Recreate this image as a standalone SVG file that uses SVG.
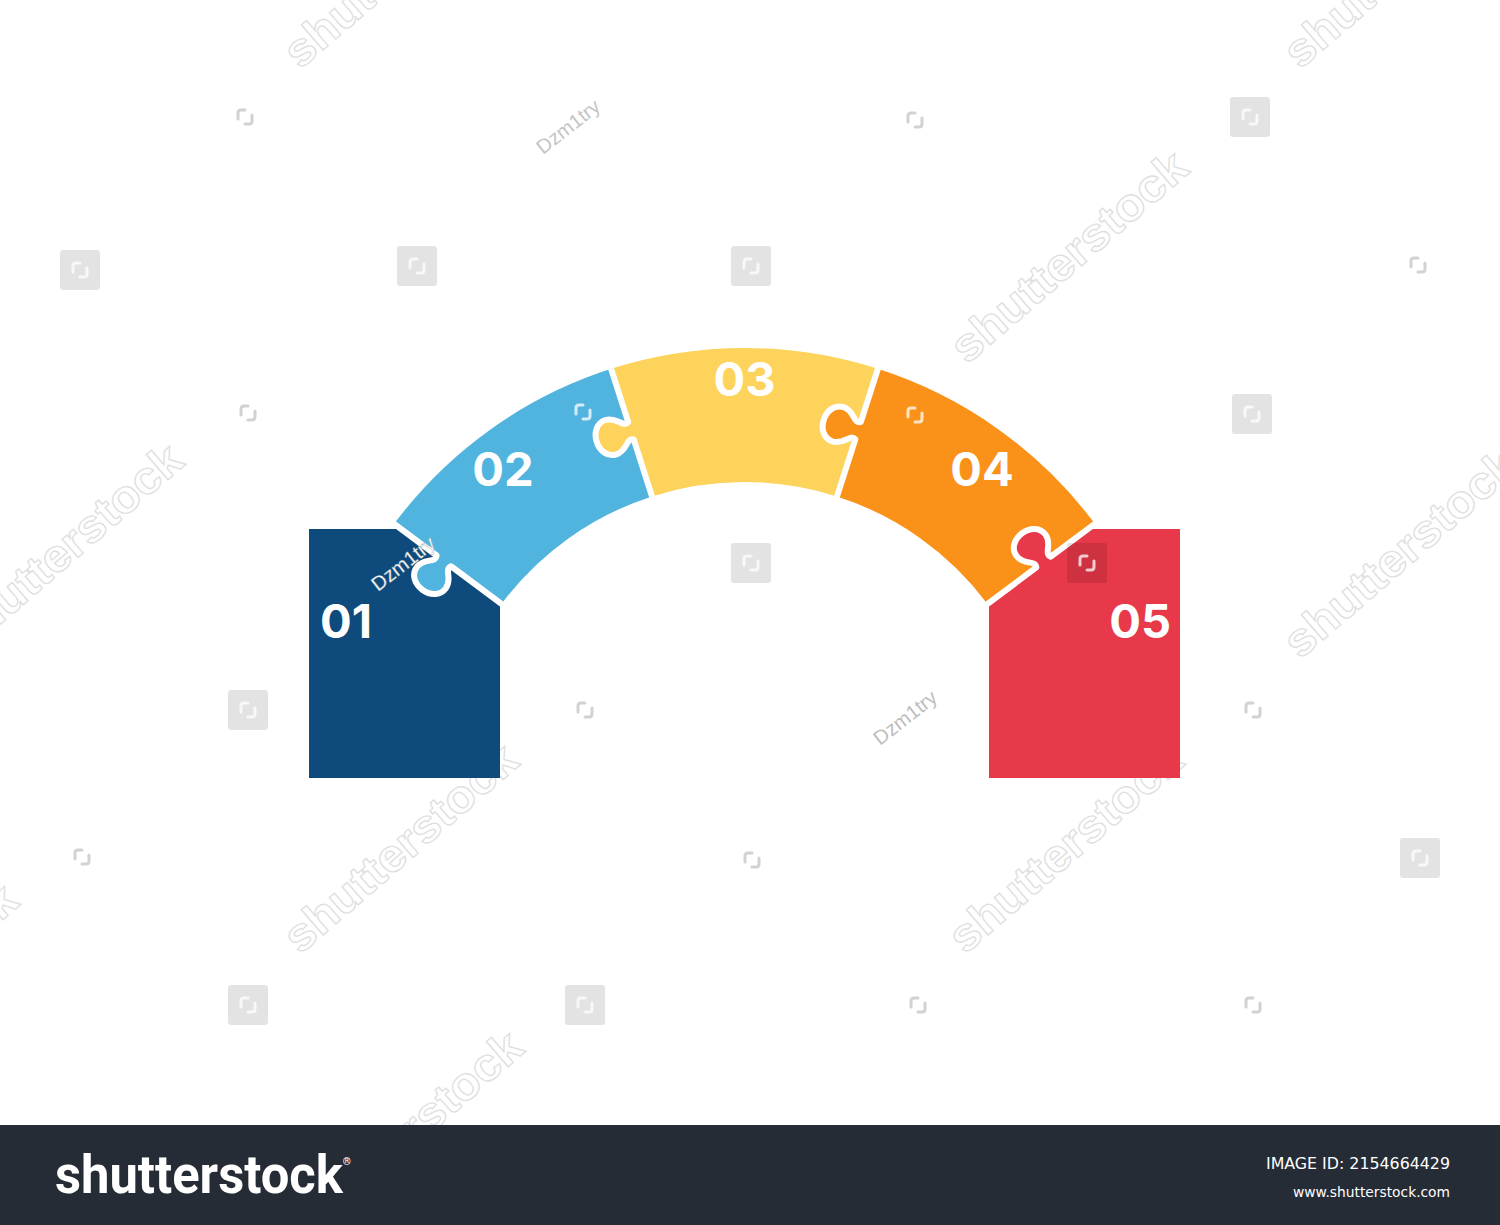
<svg xmlns="http://www.w3.org/2000/svg" width="1500" height="1225" viewBox="0 0 1500 1225">
<defs>
<style>
.num{font-family:Inter,"DejaVu Sans","Liberation Sans",sans-serif;font-weight:700;font-size:47px;fill:#fff}
.wm{font-family:"Liberation Sans",Arial,sans-serif;font-weight:bold;font-size:46px;fill:none;stroke:#e0e0e0;stroke-width:1.3}
.dz{font-family:"Liberation Sans",Arial,sans-serif;font-size:20px}
.seam{fill:none;stroke:#fff;stroke-width:6;stroke-linejoin:round;stroke-linecap:round}
.box{fill:#000;fill-opacity:0.11}
.ico{fill:none;stroke:#fff;stroke-opacity:0.75;stroke-width:3;stroke-linecap:round}
.ico2{fill:none;stroke:#d2d2d2;stroke-width:3;stroke-linecap:round}
</style>
<path id="tab" d="M-9,-6 L-9,0 C-5,7 -18,9 -18,21 C-18,30 -10,36 0,36 C10,36 18,30 18,21 C18,9 5,7 9,0 L9,-6 Z"/>
<path id="seamPath" d="M-110,0 L-9,0 C-5,7 -18,9 -18,21 C-18,30 -10,36 0,36 C10,36 18,30 18,21 C18,9 5,7 9,0 L110,0"/>
<path id="glyph" d="M-7,2 v-6 q0,-3 3,-3 h4 M7,-2 v6 q0,3 -3,3 h-4"/>
</defs>
<rect width="1500" height="1225" fill="#fff"/>

<g id="watermarks-back">
<text class="wm" transform="translate(300,955) rotate(-40.8)" textLength="292" lengthAdjust="spacingAndGlyphs">shutterstock</text>
<text class="wm" transform="translate(965,955) rotate(-40.8)" textLength="292" lengthAdjust="spacingAndGlyphs">shutterstock</text>
<text class="wm" transform="translate(967,365) rotate(-40.8)" textLength="296" lengthAdjust="spacingAndGlyphs">shutterstock</text>
<text class="wm" transform="translate(-35,655) rotate(-40.8)" textLength="292" lengthAdjust="spacingAndGlyphs">shutterstock</text>
<text class="wm" transform="translate(1300,660) rotate(-40.8)" textLength="292" lengthAdjust="spacingAndGlyphs">shutterstock</text>
<text class="wm" transform="translate(300,70) rotate(-40.8)" textLength="292" lengthAdjust="spacingAndGlyphs">shutterstock</text>
<text class="wm" transform="translate(1300,70) rotate(-40.8)" textLength="292" lengthAdjust="spacingAndGlyphs">shutterstock</text>
<text class="wm" transform="translate(305,1242) rotate(-40.8)" textLength="292" lengthAdjust="spacingAndGlyphs">shutterstock</text>
<text class="wm" transform="translate(-200,1095) rotate(-40.8)" textLength="292" lengthAdjust="spacingAndGlyphs">shutterstock</text>
<g class="ico2">
<use href="#glyph" x="245" y="117"/><use href="#glyph" x="915" y="120"/><use href="#glyph" x="248" y="413"/>
<use href="#glyph" x="585" y="710"/><use href="#glyph" x="1253" y="710"/><use href="#glyph" x="82" y="857"/>
<use href="#glyph" x="752" y="860"/><use href="#glyph" x="918" y="1005"/><use href="#glyph" x="1253" y="1005"/>
<use href="#glyph" x="1418" y="265"/>
</g>
<g>
<rect class="box" x="60" y="250" width="40" height="40" rx="3"/>
<rect class="box" x="397" y="246" width="40" height="40" rx="3"/>
<rect class="box" x="731" y="246" width="40" height="40" rx="3"/>
<rect class="box" x="1230" y="97" width="40" height="40" rx="3"/>
<rect class="box" x="1232" y="394" width="40" height="40" rx="3"/>
<rect class="box" x="731" y="543" width="40" height="40" rx="3"/>
<rect class="box" x="228" y="690" width="40" height="40" rx="3"/>
<rect class="box" x="228" y="985" width="40" height="40" rx="3"/>
<rect class="box" x="565" y="985" width="40" height="40" rx="3"/>
<rect class="box" x="1400" y="838" width="40" height="40" rx="3"/>
</g>
<g class="ico">
<use href="#glyph" x="80" y="270"/><use href="#glyph" x="417" y="266"/><use href="#glyph" x="751" y="266"/>
<use href="#glyph" x="1250" y="117"/><use href="#glyph" x="1252" y="414"/><use href="#glyph" x="751" y="563"/>
<use href="#glyph" x="248" y="710"/><use href="#glyph" x="248" y="1005"/><use href="#glyph" x="585" y="1005"/>
<use href="#glyph" x="1420" y="858"/>
</g>
</g>

<g id="piece-01">
<path d="M309,529 L401.04,529 L500,602.75 L500,778 L309,778 Z" fill="#0e4a7c"/>
<text class="num" x="320" y="638">01</text>
</g>

<g id="piece-02">
<path d="M394.12,523.84 A437,437 0 0 1 611.11,368.85 L652.01,496.46 A303,303 0 0 0 501.56,603.92 Z" fill="#51b4df"/>
<use href="#tab" transform="translate(443.83,560.89) rotate(36.7)" fill="#51b4df"/>
<use href="#seamPath" class="seam" transform="translate(443.83,560.89) rotate(36.7)"/>
<text class="num" x="503" y="486" text-anchor="middle">02</text>
</g>

<g id="piece-03">
<path d="M611.11,368.85 A437,437 0 0 1 877.89,368.85 L836.99,496.46 A303,303 0 0 0 652.01,496.46 Z" fill="#fdd35b"/>
<use href="#tab" transform="translate(630.96,430.75) rotate(72.23)" fill="#fdd35b"/>
<use href="#seamPath" class="seam" transform="translate(630.96,430.75) rotate(72.23)"/>
<text class="num" x="744.5" y="396" text-anchor="middle">03</text>
</g>

<g id="piece-04">
<path d="M877.89,368.85 A437,437 0 0 1 1094.88,523.84 L987.44,603.92 A303,303 0 0 0 836.99,496.46 Z" fill="#fa9219"/>
<use href="#tab" transform="translate(858.04,430.75) rotate(107.77)" fill="#fa9219"/>
<use href="#seamPath" class="seam" transform="translate(858.04,430.75) rotate(107.77)"/>
<text class="num" x="982" y="486" text-anchor="middle">04</text>
</g>

<g id="piece-05">
<path d="M1180,529 L1087.96,529 L989,602.75 L989,778 L1180,778 Z" fill="#e8394a"/>
<use href="#tab" transform="translate(1043.55,562.09) rotate(143.3)" fill="#e8394a"/>
<use href="#seamPath" class="seam" transform="translate(1043.55,562.09) rotate(143.3)"/>
<text class="num" x="1171" y="638" text-anchor="end">05</text>
</g>

<g id="connectors"/>

<g id="watermarks-front">
<rect class="box" x="1067" y="543" width="40" height="40" rx="2"/>
<g class="ico"><use href="#glyph" x="1087" y="563"/><use href="#glyph" x="583" y="412"/><use href="#glyph" x="915" y="415"/></g>
<text class="dz" transform="translate(543,155) rotate(-38)" fill="#c4c4c4">Dzm1try</text>
<text class="dz" transform="translate(378,592) rotate(-38)" fill="#ffffff" stroke="#9aa" stroke-width="0.4">Dzm1try</text>
<text class="dz" transform="translate(880,746) rotate(-38)" fill="#bdbdbd">Dzm1try</text>
</g>

<g id="banner">
<rect x="0" y="1125" width="1500" height="100" fill="#262c36"/>
<text x="55" y="1193" font-family="Roboto,'Liberation Sans',sans-serif" font-weight="700" font-size="54" fill="#fff" textLength="296" lengthAdjust="spacingAndGlyphs">shutterstock<tspan font-size="11" dy="-28">®</tspan></text>
<text x="1450" y="1169" text-anchor="end" font-family="'DejaVu Sans Condensed','Liberation Sans',sans-serif" font-size="16" fill="#fff" textLength="184" lengthAdjust="spacingAndGlyphs">IMAGE ID: 2154664429</text>
<text x="1450" y="1197" text-anchor="end" font-family="'DejaVu Sans Condensed','Liberation Sans',sans-serif" font-size="14" fill="#fff" textLength="157" lengthAdjust="spacingAndGlyphs">www.shutterstock.com</text>
</g>
</svg>
